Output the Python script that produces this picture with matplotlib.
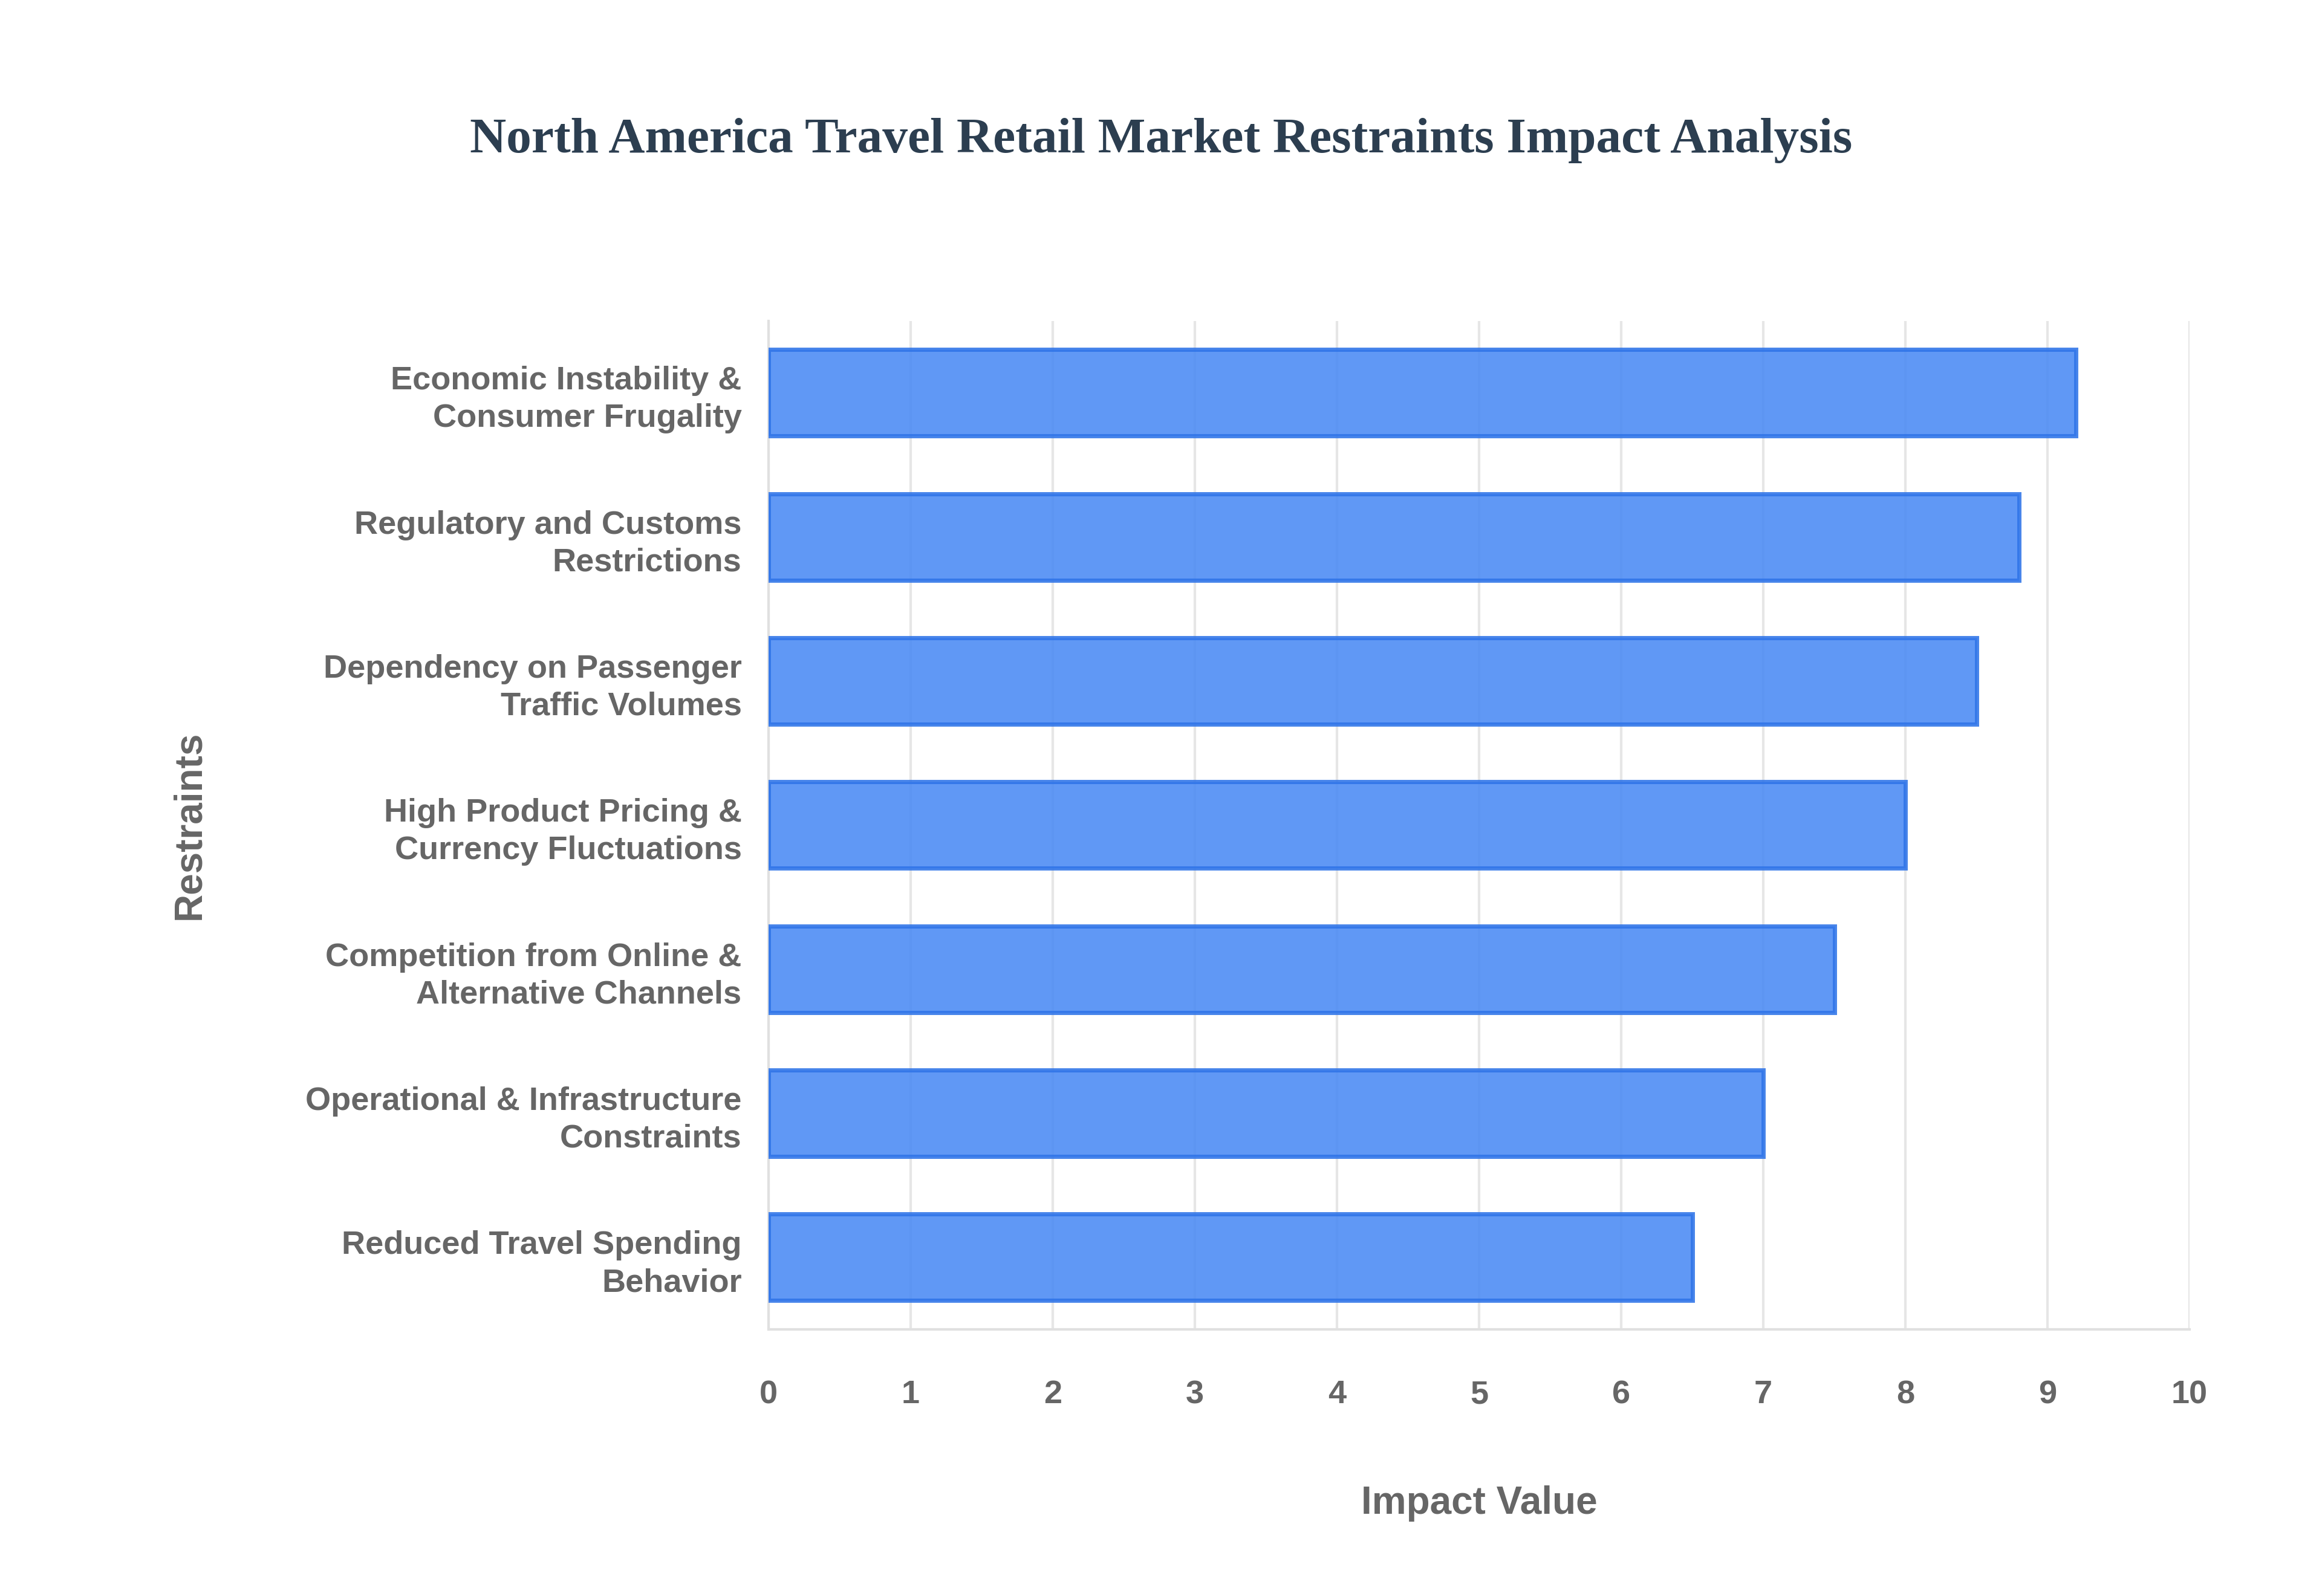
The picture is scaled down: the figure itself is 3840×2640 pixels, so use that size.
import matplotlib.pyplot as plt

# Chart data
restraints = ['Economic Instability &\nConsumer Frugality',
              'Regulatory and Customs\nRestrictions',
              'Dependency on Passenger\nTraffic Volumes',
              'High Product Pricing &\nCurrency Fluctuations',
              'Competition from Online &\nAlternative Channels',
              'Operational & Infrastructure\nConstraints',
              'Reduced Travel Spending\nBehavior']
impact = [9.2, 8.8, 8.5, 8.0, 7.5, 7.0, 6.5]
xticks = list(range(0, 11))

fig = plt.figure(figsize=(19.2, 13.2), dpi=200)
ax = fig.add_axes([0.331, 0.167, 0.612, 0.632])

pos = list(range(len(restraints)))
ax.barh(pos, impact, height=0.6, color='#4a8af4', alpha=0.88,
        edgecolor='#2f74e8', linewidth=2.5, zorder=3)
ax.set_ylim(len(restraints) - 0.5, -0.5)
ax.set_xlim(0, 10)
ax.set_xticks(xticks)
ax.set_yticks(pos)
ax.set_yticklabels(restraints, linespacing=1.3)
ax.grid(axis='x', color='#e6e6e6', linewidth=1.5, zorder=0)
for s in ['top', 'right']:
    ax.spines[s].set_visible(False)
for s in ['left', 'bottom']:
    ax.spines[s].set_color('#e0e0e0')
    ax.spines[s].set_linewidth(1.5)
ax.tick_params(axis='y', length=0, pad=16, labelcolor='#666666', labelsize=19.5)
ax.tick_params(axis='x', length=0, pad=30, labelcolor='#666666', labelsize=19.5)
for lab in ax.get_xticklabels() + ax.get_yticklabels():
    lab.set_fontfamily('Liberation Sans')
    lab.set_fontweight('bold')

ax.set_xlabel('Impact Value', fontsize=23, fontweight='bold', color='#666666',
              family='Liberation Sans', labelpad=45)
ax.set_ylabel('Restraints', fontsize=23, fontweight='bold', color='#666666',
              family='Liberation Sans')
ax.yaxis.set_label_coords(-0.395, 0.5)

fig.text(0.5, 0.912, 'North America Travel Retail Market Restraints Impact Analysis',
         ha='center', va='center', fontsize=30, fontweight='bold',
         color='#2c3e50', family='Liberation Serif')

fig.savefig('out.png', dpi=200, facecolor='white')
